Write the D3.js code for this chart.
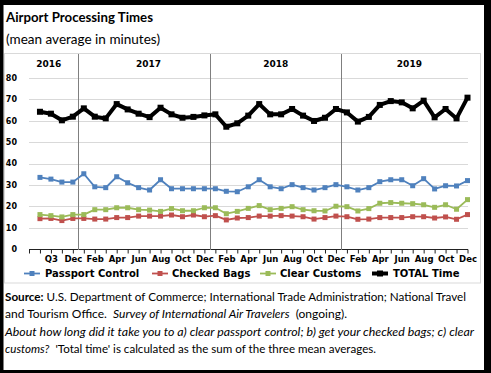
<!DOCTYPE html>
<html>
<head>
<meta charset="utf-8">
<script src="https://cdn.jsdelivr.net/npm/d3@7"></script>
<style>
  html, body { margin: 0; padding: 0; background: #fff; }
  svg { display: block; }
</style>
</head>
<body>
<svg id="chart" width="491" height="373"></svg>
<script>
// ---------- DATA ----------
const categories = ["", "Q2", "Q3", "Nov", "Dec",
  "Jan","Feb","Mar","Apr","May","Jun","Jul","Aug","Sep","Oct","Nov","Dec",
  "Jan","Feb","Mar","Apr","May","Jun","Jul","Aug","Sep","Oct","Nov","Dec",
  "Jan","Feb","Mar","Apr","May","Jun","Jul","Aug","Sep","Oct","Nov","Dec"];
const years = ["2016", "2017", "2018", "2019"];
const yTicks = [0, 10, 20, 30, 40, 50, 60, 70, 80];

const passportControl = [33.5,32.7,31.3,31.3, 35.2,29.1,28.7,33.8,31.0,28.7,27.6,32.4,28.2,28.2,28.2,28.2,
  28.2,27.0,26.8,29.1,32.4,29.1,28.2,30.1,28.7,27.6,28.7,30.1,
  29.1,27.6,28.7,31.5,32.4,32.4,29.6,32.9,28.1,29.6,29.5,32.0];
const checkedBags = [14.2,14.3,13.3,14.3, 14.3,14.0,14.0,14.7,14.7,15.4,15.4,15.4,15.9,15.1,15.9,15.1,
  15.6,13.6,14.5,14.7,15.4,15.4,15.6,15.4,15.1,14.0,14.7,15.4,
  15.1,13.9,14.0,14.7,14.7,14.7,15.1,15.1,14.5,15.0,13.9,16.1];
const clearCustoms = [16.1,15.6,15.0,16.1, 16.1,18.4,18.4,19.3,19.3,18.4,18.2,17.6,18.9,17.9,17.9,19.3,
  19.3,16.5,17.6,19.0,20.3,18.4,19.0,19.8,18.4,17.9,17.8,20.0,
  19.8,17.8,18.9,21.4,21.7,21.4,21.2,20.7,19.5,20.7,18.6,23.1];
const totalTime = [64.2,63.3,60.2,61.9, 65.8,61.9,61.1,67.8,65.3,63.3,61.7,66.1,63.0,61.4,61.8,62.5,
  63.0,57.2,58.8,62.4,67.8,63.0,63.0,65.5,62.4,59.9,61.4,65.5,
  63.9,59.6,61.8,67.4,69.2,68.6,65.8,69.4,61.6,65.5,61.1,70.8];
const seriesNames = ["Passport Control", "Checked Bags", "Clear Customs", "TOTAL Time"];

// ---------- LAYOUT ----------
const svg = d3.select("#chart");
const W = 491, H = 373;
const plot = { left: 29, right: 467.5, top: 78, bottom: 249 };
const colors = ["#4F81BD", "#C0504D", "#9BBB59", "#000000"];
const yearBoundaries = [4.5, 16.5, 28.5];      // in category units
const yearLabelAt = [1.8, 10.9, 22.5, 34.7];   // in category units

const x = d3.scaleLinear().domain([0, categories.length - 1]).range([plot.left, plot.right]);
const y = d3.scaleLinear().domain([0, 80]).range([plot.bottom, plot.top]);

const boldFont = "'DejaVu Sans', Verdana, sans-serif";
const textFont = "Lato, 'Liberation Sans', sans-serif";

// chart frame
svg.append("rect").attr("x", 4.5).attr("y", 53.5).attr("width", 476).attr("height", 229.5)
  .attr("fill", "none").attr("stroke", "#D9D9D9").attr("stroke-width", 1);

// gridlines
svg.append("g").selectAll("line").data(yTicks.filter(d => d > 0)).join("line")
  .attr("x1", plot.left).attr("x2", plot.right + 0.5)
  .attr("y1", d => Math.round(y(d)) + 0.5).attr("y2", d => Math.round(y(d)) + 0.5)
  .attr("stroke", "#D9D9D9").attr("stroke-width", 1);

// y labels
svg.append("g").selectAll("text").data(yTicks).join("text")
  .attr("x", 17).attr("y", d => y(d)).attr("dy", "0.36em")
  .attr("text-anchor", "end")
  .attr("font-family", boldFont).attr("font-weight", "bold").attr("font-size", 8)
  .attr("fill", "#000").text(d => d);

// x axis
const xAxis = d3.axisBottom(x)
  .tickValues(d3.range(categories.length))
  .tickSize(4)
  .tickFormat(i => (i % 2 === 0 ? categories[i] : ""));
const gx = svg.append("g").attr("transform", `translate(0,${plot.bottom + 0.5})`).call(xAxis);
gx.select(".domain").attr("stroke", "#222").attr("d", `M${plot.left},0H${plot.right + 0.5}`);
gx.selectAll(".tick line").attr("stroke", "#222");
gx.selectAll(".tick text")
  .attr("font-family", boldFont).attr("font-weight", "bold").attr("font-size", 8.5)
  .attr("fill", "#000").attr("y", 6).attr("dy", "0.71em");

// year separators
svg.append("g").selectAll("line").data(yearBoundaries).join("line")
  .attr("x1", d => Math.round(x(d)) + 0.5).attr("x2", d => Math.round(x(d)) + 0.5)
  .attr("y1", 54).attr("y2", plot.bottom + 1)
  .attr("stroke", "#7F7F7F").attr("stroke-width", 1);

// year labels
svg.append("g").selectAll("text").data(years).join("text")
  .attr("x", (d, i) => x(yearLabelAt[i])).attr("y", 66.5)
  .attr("text-anchor", "middle")
  .attr("font-family", boldFont).attr("font-weight", "bold").attr("font-size", 9)
  .attr("fill", "#000").text(d => d);

// series
const allSeries = [passportControl, checkedBags, clearCustoms, totalTime];
const line = d3.line().x((d, i) => x(i + 1)).y(d => y(d));
allSeries.forEach((vals, si) => {
  const g = svg.append("g");
  const isTotal = si === 3;
  g.append("path").datum(vals).attr("d", line)
    .attr("fill", "none").attr("stroke", colors[si])
    .attr("stroke-width", isTotal ? 4 : 1.8).attr("stroke-linejoin", "round");
  const ms = isTotal ? 6 : 5;
  g.selectAll("rect").data(vals).join("rect")
    .attr("x", (d, i) => x(i + 1) - ms / 2).attr("y", d => y(d) - ms / 2)
    .attr("width", ms).attr("height", ms).attr("fill", colors[si]);
});

// legend
const legendItems = [
  { sx: 24, tx: 45 }, { sx: 152, tx: 172 }, { sx: 260, tx: 280 }, { sx: 372, tx: 393 }
];
const ly = 273.5;
legendItems.forEach((it, i) => {
  const g = svg.append("g");
  const isTotal = i === 3;
  g.append("line").attr("x1", it.sx).attr("x2", it.sx + 16).attr("y1", ly).attr("y2", ly)
    .attr("stroke", colors[i]).attr("stroke-width", isTotal ? 4 : 1.8);
  const ms = isTotal ? 6 : 5;
  g.append("rect").attr("x", it.sx + 8 - ms / 2).attr("y", ly - ms / 2).attr("width", ms).attr("height", ms)
    .attr("fill", colors[i]);
  g.append("text").attr("x", it.tx).attr("y", ly).attr("dy", "0.36em")
    .attr("font-family", boldFont).attr("font-weight", "bold").attr("font-size", 10)
    .attr("fill", "#000").text(seriesNames[i]);
});

// title & subtitle
svg.append("text").attr("x", 6).attr("y", 21.5)
  .attr("font-family", textFont).attr("font-weight", "bold").attr("font-size", 13.5)
  .attr("textLength", 147).attr("lengthAdjust", "spacingAndGlyphs")
  .text("Airport Processing Times");
svg.append("text").attr("x", 6).attr("y", 43.5)
  .attr("font-family", textFont).attr("font-size", 13.5)
  .attr("textLength", 154).attr("lengthAdjust", "spacingAndGlyphs")
  .text("(mean average in minutes)");

// source notes
const notes = [
  { y: 300.5, w: 461, parts: [["Source:", "bold", "normal"], [" U.S. Department of Commerce; International Trade Administration; National Travel", "normal", "normal"]] },
  { y: 318, w: 342, parts: [["and Tourism Office.  ", "normal", "normal"], ["Survey of International Air Travelers", "normal", "italic"], ["  (ongoing).", "normal", "normal"]] },
  { y: 335.5, w: 469, parts: [["About how long did it take you to a) clear passport control; b) get your checked bags; c) clear", "normal", "italic"]] },
  { y: 353, w: 371, parts: [["customs?", "normal", "italic"], ["  'Total time' is calculated as the sum of the three mean averages.", "normal", "normal"]] }
];
notes.forEach(n => {
  const t = svg.append("text").attr("x", 5).attr("y", n.y)
    .attr("font-family", textFont).attr("font-size", 11.6).attr("fill", "#000")
    .attr("textLength", n.w).attr("lengthAdjust", "spacingAndGlyphs")
    .style("white-space", "pre");
  n.parts.forEach(p => {
    t.append("tspan").attr("font-weight", p[1]).attr("font-style", p[2]).text(p[0]);
  });
});

// outer black frame
svg.append("rect").attr("x", 0).attr("y", 0).attr("width", W).attr("height", 5).attr("fill", "#000");
svg.append("rect").attr("x", 0).attr("y", 0).attr("width", 3.5).attr("height", H).attr("fill", "#000");
svg.append("rect").attr("x", 484).attr("y", 0).attr("width", 7).attr("height", H).attr("fill", "#000");
svg.append("rect").attr("x", 0).attr("y", 370).attr("width", W).attr("height", 3).attr("fill", "#000");
</script>
</body>
</html>
